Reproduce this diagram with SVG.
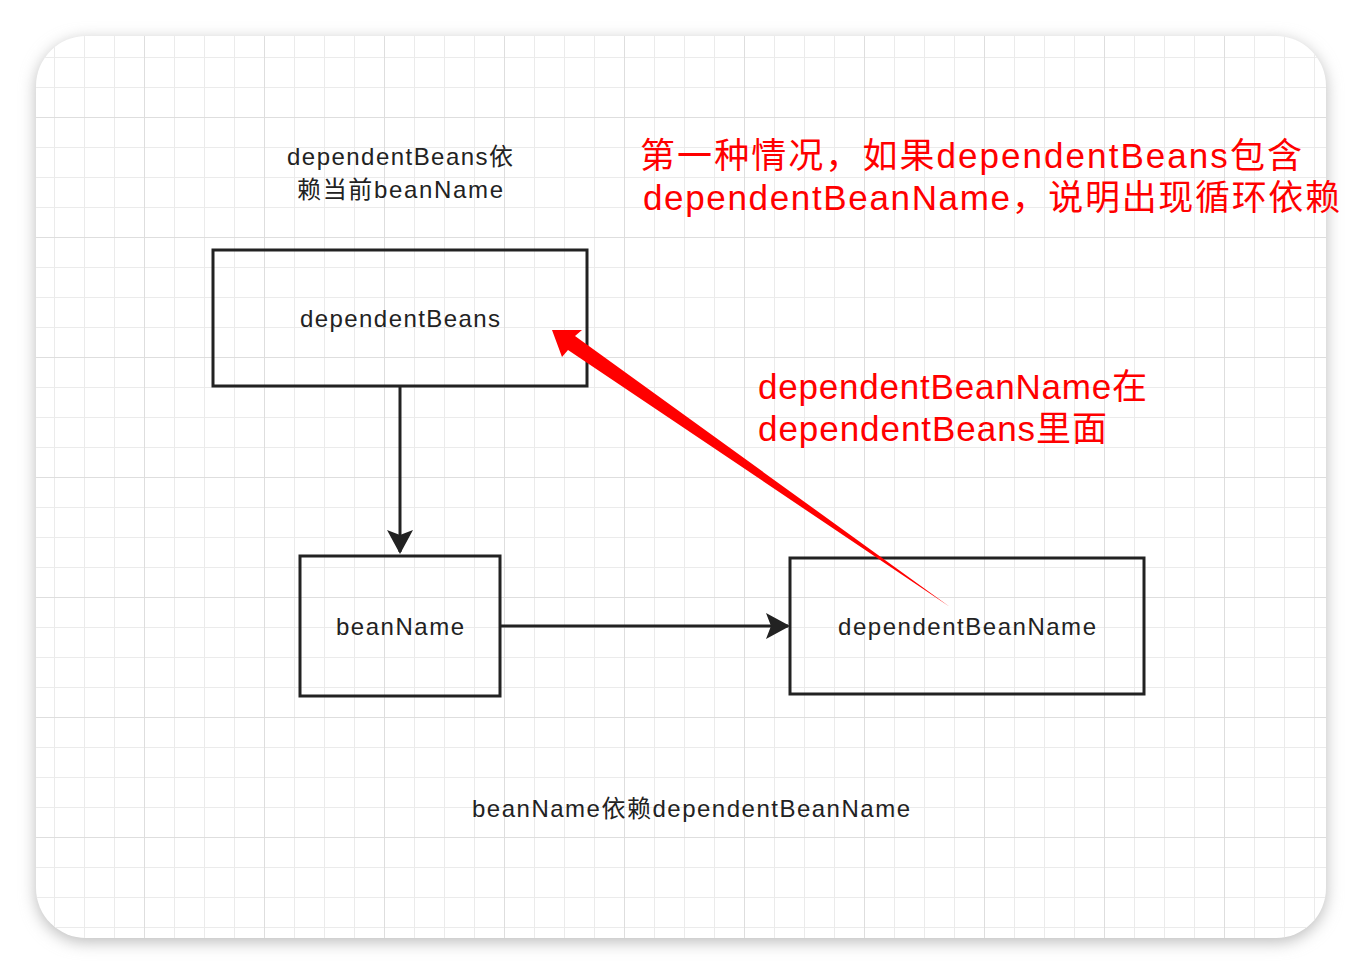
<svg xmlns="http://www.w3.org/2000/svg" width="1362" height="974" viewBox="0 0 1362 974">
<defs>
<pattern id="minor" x="25" y="28" width="30" height="30" patternUnits="userSpaceOnUse"><path d="M30 0V30M0 30H30" fill="none" stroke="#ebebeb" stroke-width="2"/></pattern>
<pattern id="major" x="25" y="-2" width="120" height="120" patternUnits="userSpaceOnUse"><path d="M120 0V120M0 120H120" fill="none" stroke="#dedede" stroke-width="2"/></pattern>
<filter id="sh" x="-5%" y="-5%" width="110%" height="110%"><feGaussianBlur stdDeviation="8"/></filter>
<clipPath id="card"><rect x="36" y="36" width="1290" height="902" rx="50"/></clipPath>
<marker id="ar" markerWidth="24" markerHeight="26" refX="22" refY="13" orient="auto" markerUnits="userSpaceOnUse"><path d="M0 0L24 13L0 26L5 13Z" fill="#222"/></marker>
</defs>
<style>
.box{fill:none;stroke:#222;stroke-width:3}
.t{font-family:"Liberation Sans","Noto Sans CJK SC",sans-serif;font-size:24px;fill:#222}
.r{font-family:"Liberation Sans","Noto Sans CJK SC",sans-serif;font-size:35px;fill:#ff0000}
.c{stroke:#222;stroke-width:3;fill:none}
</style>
<rect width="1362" height="974" fill="#fff"/>
<rect x="36" y="40" width="1290" height="902" rx="50" fill="#bbb" filter="url(#sh)"/>
<g clip-path="url(#card)">
<rect x="36" y="36" width="1290" height="902" fill="#fff"/>
<rect x="36" y="36" width="1290" height="902" fill="url(#minor)"/>
<rect x="36" y="36" width="1290" height="902" fill="url(#major)"/>
</g>
<g id="label-top"><text class="t" x="287" y="165" textLength="226">dependentBeans依</text><text class="t" x="297" y="198" textLength="206">赖当前beanName</text></g>
<g id="dependentBeans"><rect class="box" x="213" y="250" width="374" height="136"/><text class="t" x="300" y="327" textLength="200">dependentBeans</text></g>
<g id="beanName"><rect class="box" x="300" y="556" width="200" height="140"/><text class="t" x="336" y="635" textLength="128">beanName</text></g>
<g id="dependentBeanName"><rect class="box" x="790" y="558" width="354" height="136"/><text class="t" x="838" y="635" textLength="258">dependentBeanName</text></g>
<g id="label-bottom"><text class="t" x="472" y="817" textLength="438">beanName依赖dependentBeanName</text></g>
<g id="red-title"><text class="r" x="640" y="168" textLength="662">第一种情况，如果dependentBeans包含</text><text class="r" x="643" y="210" textLength="697">dependentBeanName，说明出现循环依赖</text></g>
<g id="red-label"><text class="r" x="758" y="399" textLength="389">dependentBeanName在</text><text class="r" x="758" y="441" textLength="349">dependentBeans里面</text></g>
<g id="connectors">
<path class="c" d="M400 386V552" marker-end="url(#ar)"/>
<path class="c" d="M500 626H788" marker-end="url(#ar)"/>
<path d="M552 330L582 330L575 336L950 607L568 350L562 357Z" fill="#ff0000"/>
</g>
</svg>
